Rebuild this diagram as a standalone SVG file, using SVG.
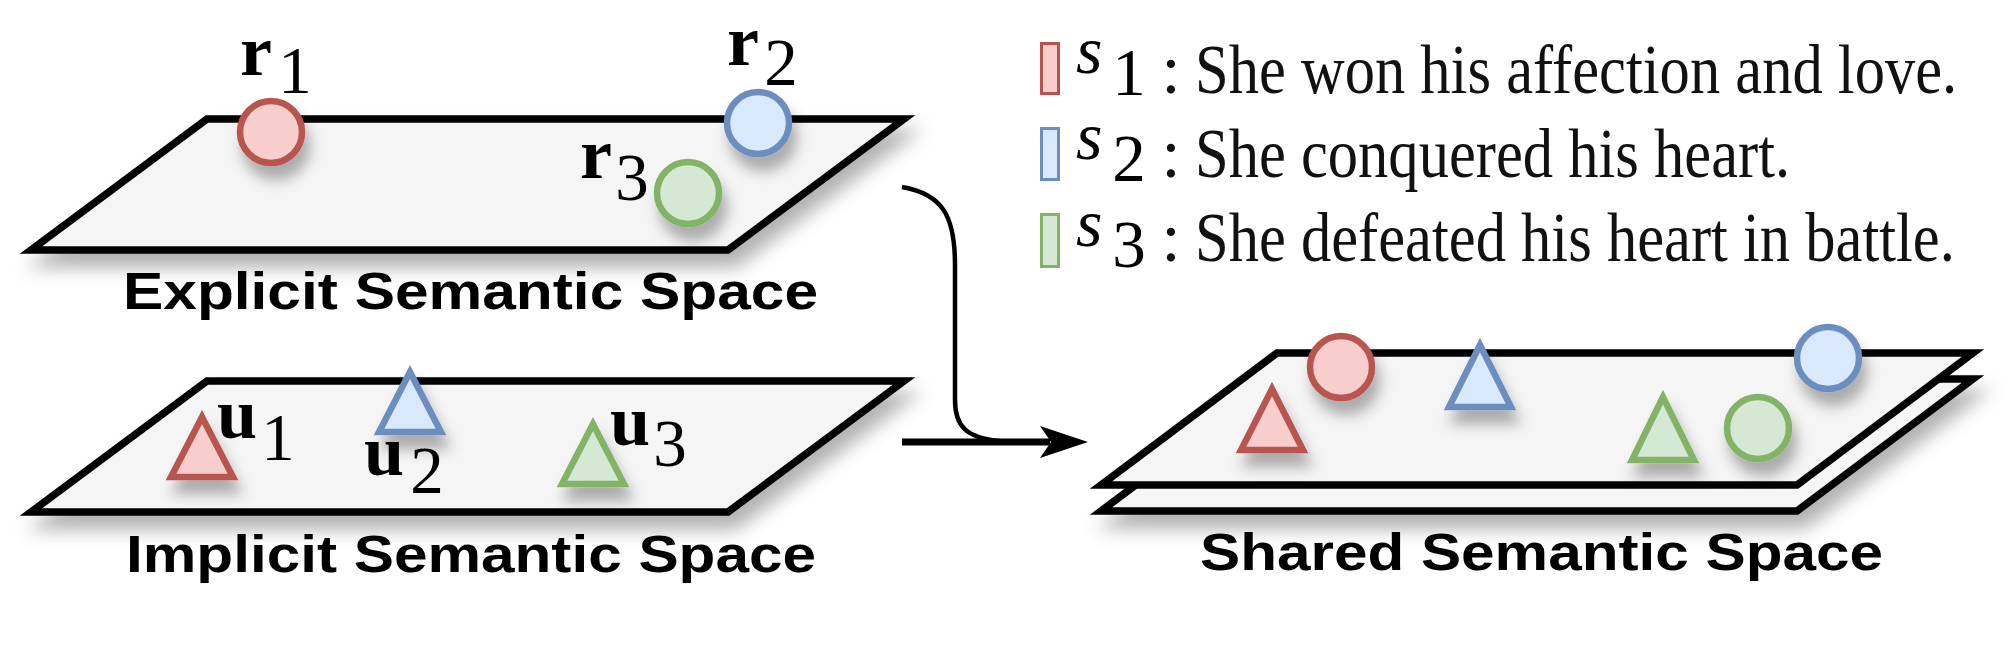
<svg xmlns="http://www.w3.org/2000/svg" width="2016" height="662" viewBox="0 0 2016 662">
<defs>
<style>
.plane{fill:#f5f5f5;stroke:#000;stroke-width:7.5;stroke-linejoin:miter;stroke-miterlimit:10}
.red{fill:#f8cecc;stroke:#b85450;stroke-width:6.5;stroke-linejoin:miter}
.blue{fill:#dae8fc;stroke:#6c8ebf;stroke-width:6.5;stroke-linejoin:miter}
.green{fill:#d5e8d4;stroke:#82b366;stroke-width:6.5;stroke-linejoin:miter}
.lred{fill:#f8cecc;stroke:#b85450;stroke-width:3}
.lblue{fill:#dae8fc;stroke:#6c8ebf;stroke-width:3}
.lgreen{fill:#d5e8d4;stroke:#82b366;stroke-width:3}
.title{font-family:"Liberation Sans",Arial,sans-serif;font-weight:bold;font-size:52px;fill:#000}
.bv{font-family:"Liberation Serif","Times New Roman",serif;font-weight:bold;font-size:72px;fill:#000}
.sub{font-family:"Liberation Serif","Times New Roman",serif;font-size:67px;fill:#000;text-anchor:middle}
.iv{font-family:"Liberation Serif","Times New Roman",serif;font-style:italic;font-size:68px;fill:#000}
.sent{font-family:"Liberation Serif","Times New Roman",serif;font-size:70px;fill:#111}
.conn{fill:none;stroke:#000}
</style>
<filter id="psh" x="-10%" y="-20%" width="125%" height="150%">
<feDropShadow dx="7" dy="14" stdDeviation="9" flood-color="#000" flood-opacity="0.3"/>
</filter>
<filter id="ssh" x="-50%" y="-50%" width="200%" height="220%">
<feDropShadow dx="5" dy="14" stdDeviation="7" flood-color="#000" flood-opacity="0.3"/>
</filter>
</defs>
<rect width="2016" height="662" fill="#fff"/>

<g id="explicit-space">
<polygon class="plane" filter="url(#psh)" points="207,119 904,119 728,250 31,250"/>
<circle class="red" filter="url(#ssh)" cx="271" cy="132" r="31"/>
<circle class="blue" filter="url(#ssh)" cx="758" cy="123" r="31"/>
<circle class="green" filter="url(#ssh)" cx="688" cy="193" r="31"/>
<text class="bv" x="240" y="75">r</text><text class="sub" x="295" y="93">1</text>
<text class="bv" x="727" y="65">r</text><text class="sub" x="781" y="85">2</text>
<text class="bv" x="580" y="178">r</text><text class="sub" x="632" y="200">3</text>
<text class="title" x="123" y="309" textLength="695" lengthAdjust="spacingAndGlyphs">Explicit Semantic Space</text>
</g>

<g id="implicit-space">
<polygon class="plane" filter="url(#psh)" points="207,381 904,381 728,512 31,512"/>
<polygon class="red" filter="url(#ssh)" points="202,417 171,477 233,477"/>
<polygon class="blue" filter="url(#ssh)" points="410,372 379,432 441,432"/>
<polygon class="green" filter="url(#ssh)" points="593,424 562,484 624,484"/>
<text class="bv" x="217" y="438">u</text><text class="sub" x="278" y="460">1</text>
<text class="bv" x="364" y="475">u</text><text class="sub" x="427" y="493">2</text>
<text class="bv" x="610" y="445">u</text><text class="sub" x="670" y="466">3</text>
<text class="title" x="126" y="572" textLength="690" lengthAdjust="spacingAndGlyphs">Implicit Semantic Space</text>
</g>

<g id="shared-space">
<polygon class="plane" filter="url(#psh)" points="1277,379 1973,379 1797,511 1101,511"/>
<polygon class="plane" points="1277,353 1973,353 1797,485 1101,485"/>
<circle class="red" filter="url(#ssh)" cx="1341" cy="367" r="31"/>
<polygon class="red" filter="url(#ssh)" points="1272,389 1241,450 1303,450"/>
<polygon class="blue" filter="url(#ssh)" points="1480,345 1449,407 1511,407"/>
<circle class="blue" filter="url(#ssh)" cx="1828" cy="358" r="31"/>
<polygon class="green" filter="url(#ssh)" points="1663,397 1632,460 1694,460"/>
<circle class="green" filter="url(#ssh)" cx="1758" cy="428" r="31"/>
<text class="title" x="1200" y="570" textLength="683" lengthAdjust="spacingAndGlyphs">Shared Semantic Space</text>
</g>

<g id="legend">
<g id="legend-s1">
<rect class="lred" x="1041.5" y="43.5" width="17" height="50"/>
<text class="iv" x="1076" y="73">s</text><text class="sub" x="1129" y="95">1</text>
<text class="sent" x="1171" y="93" text-anchor="middle">:</text>
<text class="sent" transform="translate(1195,93) scale(0.865,1)">She won his affection and love.</text>
</g>
<g id="legend-s2">
<rect class="lblue" x="1041.5" y="128.5" width="17" height="51"/>
<text class="iv" x="1076" y="159">s</text><text class="sub" x="1129" y="181">2</text>
<text class="sent" x="1171" y="177" text-anchor="middle">:</text>
<text class="sent" transform="translate(1195,177) scale(0.865,1)">She conquered his heart.</text>
</g>
<g id="legend-s3">
<rect class="lgreen" x="1041.5" y="214.5" width="17" height="52"/>
<text class="iv" x="1076" y="246">s</text><text class="sub" x="1129" y="267">3</text>
<text class="sent" x="1171" y="261" text-anchor="middle">:</text>
<text class="sent" transform="translate(1195,261) scale(0.865,1)">She defeated his heart in battle.</text>
</g>
</g>

<g id="connectors">
<path class="conn" stroke-width="4.5" d="M902,187 C942,194 955,215 955,265 L955,400 C955,426 966,438 1000,441"/>
<line class="conn" stroke-width="7" x1="902" y1="442" x2="1050" y2="442"/>
<polygon fill="#000" points="1088,442 1040,426 1051,442 1040,458"/>
</g>
</svg>
